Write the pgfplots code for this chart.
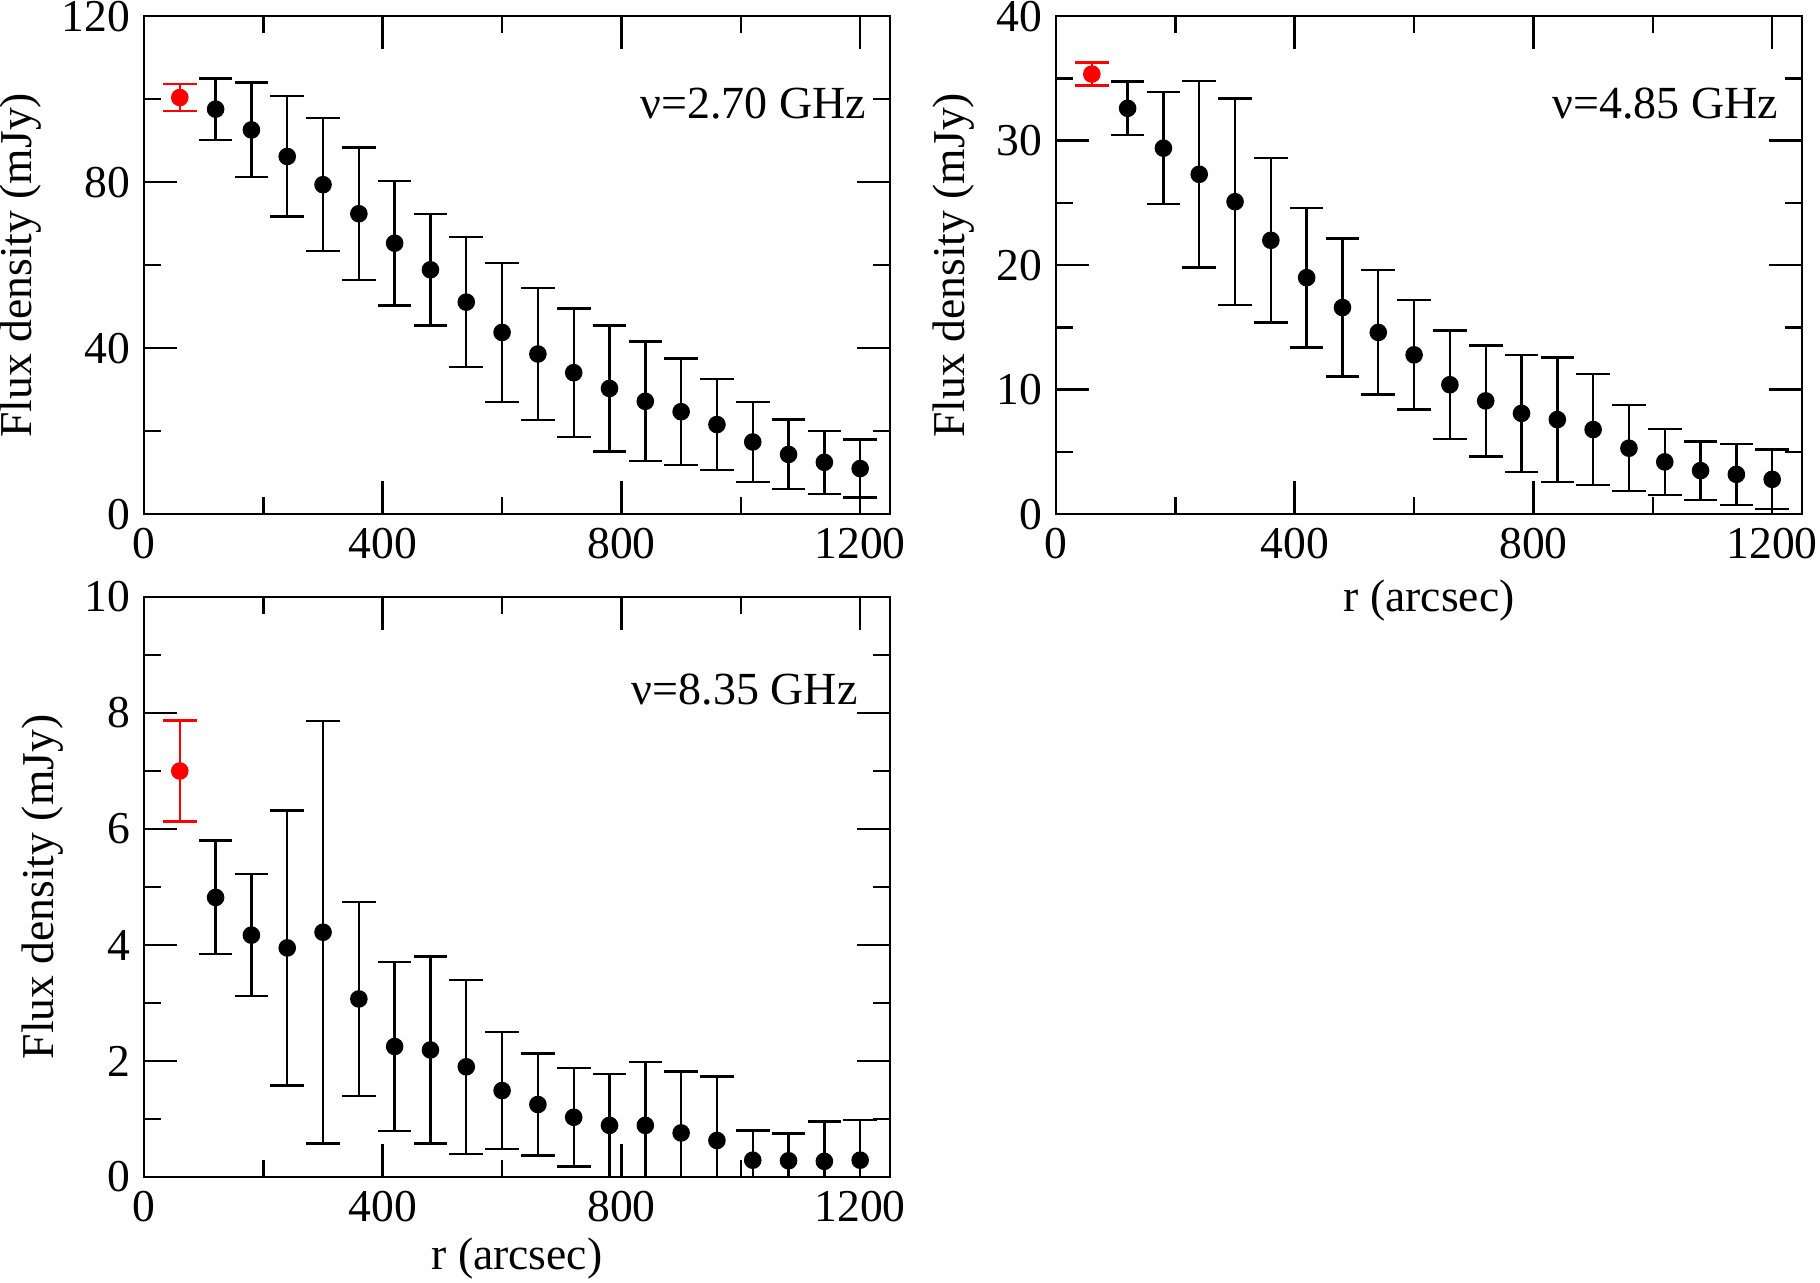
\documentclass[border=0pt]{standalone}
\usepackage{fontspec}
\setmainfont{Liberation Serif}
\usepackage{pgfplots}
\pgfplotsset{compat=1.18}

\pgfplotsset{
  panel/.style={
    scale only axis,
    width=186.5pt,
    xmin=0, xmax=1250,
    xtick={0,400,800,1200}, minor xtick={200,600,1000},
    tick align=inside,
    major tick length=8.2pt, minor tick length=4.2pt,
    axis line style={line width=0.65pt},
    every tick/.style={black, line width=0.65pt},
    tick label style={font=\fontsize{11.4}{13}\selectfont},
    label style={font=\fontsize{11.4}{13}\selectfont},
    /pgf/number format/assume math mode=true,
    /pgf/number format/1000 sep={},
    clip=true,
  },
  pts/.style={
    only marks, mark=*, mark size=2pt, #1, mark options={fill=#1, draw=#1},
    error bars/.cd, y dir=both, y explicit,
    error bar style={line width=0.6pt, #1},
    error mark options={rotate=90, line width=0.6pt, mark size=4.2pt, #1},
  },
}

\begin{document}
\begin{tikzpicture}
\useasboundingbox (0,0) rectangle (455pt,-320.75pt);

% 2.70 GHz profile
\begin{axis}[panel, at={(36pt,-4.05pt)}, anchor=north west, height=124.5pt,
  ymin=0, ymax=120, ytick={0,40,80,120}, minor ytick={20,60,100},
  ylabel={Flux density (mJy)},
  ylabel style={at={(axis description cs:-0.165,0.5)}, anchor=center}]
\addplot+[pts=black] table[x index=0, y index=1, y error index=2] {
120 97.6 7.4
180 92.6 11.4
240 86.2 14.5
300 79.4 16.0
360 72.4 16.0
420 65.3 15.0
480 58.9 13.4
540 51.1 15.7
600 43.8 16.7
660 38.6 15.9
720 34.1 15.5
780 30.3 15.2
840 27.2 14.4
900 24.7 12.8
960 21.6 11.0
1020 17.4 9.6
1080 14.4 8.4
1140 12.5 7.6
1200 11.0 7.0
};
\addplot+[pts=red] table[x index=0, y index=1, y error index=2] {
60 100.4 3.3
};
\node[anchor=east, inner sep=0pt, font=\fontsize{11.5}{13}\selectfont] at (axis cs:1211,98.9) {ν=2.70 GHz};
\end{axis}

% 4.85 GHz profile
\begin{axis}[panel, at={(264pt,-4.05pt)}, anchor=north west, height=124.5pt,
  ymin=0, ymax=40, ytick={0,10,20,30,40}, minor ytick={5,15,25,35},
  ylabel={Flux density (mJy)}, xlabel={r (arcsec)},
  ylabel style={at={(axis description cs:-0.137,0.5)}, anchor=center},
  xlabel style={at={(axis description cs:0.5,-0.173)}, anchor=center}]
\addplot+[pts=black] table[x index=0, y index=1, y error index=2] {
120 32.6 2.15
180 29.4 4.5
240 27.3 7.5
300 25.1 8.3
360 22.0 6.6
420 19.0 5.6
480 16.6 5.55
540 14.6 5.0
600 12.8 4.4
660 10.4 4.35
720 9.1 4.45
780 8.1 4.7
840 7.6 5.0
900 6.8 4.45
960 5.3 3.45
1020 4.2 2.65
1080 3.5 2.35
1140 3.2 2.45
1200 2.8 2.4
};
\addplot+[pts=red] table[x index=0, y index=1, y error index=2] {
60 35.35 0.92
};
\node[anchor=east, inner sep=0pt, font=\fontsize{11.5}{13}\selectfont] at (axis cs:1211,32.95) {ν=4.85 GHz};
\end{axis}

% 8.35 GHz profile
\begin{axis}[panel, at={(36pt,-149.25pt)}, anchor=north west, height=145pt,
  ymin=0, ymax=10, ytick={0,2,4,6,8,10}, minor ytick={1,3,5,7,9},
  ylabel={Flux density (mJy)}, xlabel={r (arcsec)},
  ylabel style={at={(axis description cs:-0.136,0.5)}, anchor=center},
  xlabel style={at={(axis description cs:0.5,-0.141)}, anchor=center}]
\addplot+[pts=black] table[x index=0, y index=1, y error index=2] {
120 4.82 0.98
180 4.17 1.05
240 3.95 2.37
300 4.22 3.64
360 3.07 1.67
420 2.25 1.46
480 2.19 1.61
540 1.90 1.50
600 1.49 1.01
660 1.25 0.88
720 1.03 0.85
780 0.89 0.89
840 0.89 1.09
900 0.76 1.06
960 0.63 1.10
1020 0.29 0.51
1080 0.28 0.47
1140 0.27 0.69
1200 0.29 0.69
};
\addplot+[pts=red] table[x index=0, y index=1, y error index=2] {
60 7.0 0.87
};
\node[anchor=east, inner sep=0pt, font=\fontsize{11.5}{13}\selectfont] at (axis cs:1197,8.40) {ν=8.35 GHz};
\end{axis}
\end{tikzpicture}
\end{document}
